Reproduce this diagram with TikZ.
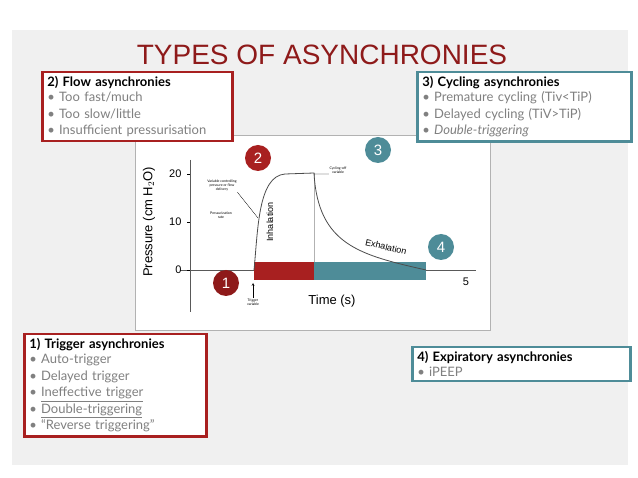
\documentclass[tikz,border=0pt]{standalone}
\usepackage{fontspec}
\setmainfont{Lato}
\newfontfamily\arialf{Liberation Sans}
\definecolor{dred}{HTML}{8E1A1A}
\definecolor{bred}{HTML}{A82020}
\definecolor{teal}{HTML}{4E8C98}
\definecolor{itemg}{HTML}{808080}
\begin{document}
\begin{tikzpicture}[x=1pt,y=-1pt,
  infobox/.style={draw=#1,line width=2.5pt,fill=white,anchor=north west,align=left,inner xsep=5pt,inner ysep=4pt,font=\fontsize{13}{16.5}\selectfont},
  badge/.style={circle,fill=#1,text=white,minimum size=26pt,inner sep=0pt,font=\arialf\fontsize{15}{15}\selectfont},
  tiny/.style={font=\fontsize{3.5}{4}\selectfont,align=center,inner sep=0.5pt},
  axl/.style={font=\arialf\fontsize{11}{11}\selectfont}]
\useasboundingbox (0,0) rectangle (638,478);
\fill[white] (0,0) rectangle (638,478);
\fill[gray!12] (12,30) rectangle (628,465);
\node[text=dred,font=\arialf\fontsize{28}{28}\selectfont] (title) at (322,55) {TYPES OF ASYNCHRONIES};
% chart panel
\node[draw=gray!60,fill=white,minimum width=355pt,minimum height=195pt,anchor=north west,inner sep=0] (panel) at (135,135) {};
\coordinate (yt) at (190,160); \coordinate (yb) at (190,312);
\coordinate (xl) at (180,270); \coordinate (xr) at (476,270);
\draw[gray!70!black,line width=0.8pt] (yt) -- (yb);
\draw[gray!70!black,line width=0.8pt] (xl) -- (xr);
\foreach \v/\y in {20/174,10/222,0/270}{\draw (187,\y)--(190,\y); \node[axl,anchor=east] at (185,\y) {\v};}
\node[axl] (five) at (466,282) {5};
\node[axl,font=\arialf\fontsize{13}{13}\selectfont,rotate=90] (plab) at (149,222) {Pressure (cm H$_2$O)};
\node[axl,font=\arialf\fontsize{13}{13}\selectfont] (tlab) at (332,301) {Time (s)};
\fill[bred] (254,262) rectangle (314,280);
\fill[teal] (314,262) rectangle (426,280);
\draw[gray!60,line width=0.5pt] (314,173) -- (314,262);
\draw[gray!60!black,line width=0.8pt] (254,270) .. controls (258,230) and (258,176) .. (285,174) -- (314,173)
  .. controls (318,245) and (360,255) .. (426,270);
\node[font=\arialf\fontsize{9}{9}\selectfont,rotate=90] (inh) at (270,222) {Inhalation};
\node[font=\arialf\fontsize{9}{9}\selectfont,rotate=-13] (exh) at (386,247) {Exhalation};
\node[tiny] (vc) at (222,186) {Variable controlling\\pressure or flow\\delivery};
\node[tiny] (pr) at (221,215) {Pressurization\\rate};
\coordinate (prc) at (258,218);
\draw[line width=0.3pt] (vc.south east) -- (prc);
\node[tiny] (co) at (338,170) {Cycling-off\\variable};
\draw[line width=0.3pt] (co.south west) -- (314,174);
\node[tiny] (tv) at (253,302) {Trigger\\variable};
\draw[->,>=stealth,line width=0.3pt] (tv.north) -- (253,283);
\node[badge=dred] (b1) at (226,283) {1};
\node[badge=bred] (b2) at (258,158) {2};
\node[badge=teal] (b3) at (378,150) {3};
\node[badge=teal] (b4) at (441,247) {4};
% boxes
\node[infobox=bred,text width=180pt] (box2) at (41,71) {\textbf{2) Flow asynchronies}\\[-1pt]
 {\color{itemg}• Too fast/much}\\ {\color{itemg}• Too slow/little}\\ {\color{itemg}• Insufficient pressurisation}};
\node[infobox=teal,text width=204pt] (box3) at (416,71) {\textbf{3) Cycling asynchronies}\\[-1pt]
 {\color{itemg}• Premature cycling (Tiv<TiP)}\\ {\color{itemg}• Delayed cycling (TiV>TiP)}\\ {\color{itemg}• \textit{Double-triggering}}};
\node[infobox=bred,text width=172pt] (box1) at (23,333) {\textbf{1) Trigger asynchronies}\\[-1pt]
 {\color{itemg}• Auto-trigger}\\ {\color{itemg}• Delayed trigger}\\ {\color{itemg}• \underline{Ineffective trigger}}\\ {\color{itemg}• \underline{Double-triggering}}\\ {\color{itemg}• ``Reverse triggering''}};
\node[infobox=teal,text width=208pt] (box4) at (411,346) {\textbf{4) Expiratory asynchronies}\\[-1pt]
 {\color{itemg}• iPEEP}};
\end{tikzpicture}
\end{document}
